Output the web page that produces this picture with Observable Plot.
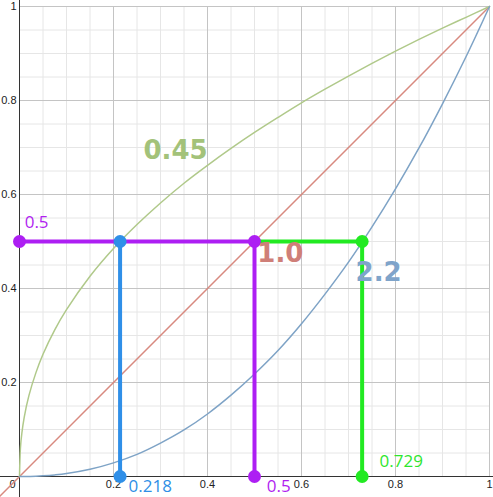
<!DOCTYPE html>
<html>
<head>
<meta charset="utf-8">
<script src="https://cdn.jsdelivr.net/npm/d3@7"></script>
<script src="https://cdn.jsdelivr.net/npm/@observablehq/plot@0.6"></script>
<style>
  html, body { margin: 0; padding: 0; background: #fff; }
  svg { display: block; }
</style>
</head>
<body>
<div id="chart"></div>
<script>
// sample x positions along the curves
const curveX = [0, 0.002, 0.005, 0.01, 0.02, 0.035, 0.05, 0.075, 0.1, 0.15, 0.2, 0.25, 0.3, 0.35, 0.4, 0.45, 0.5, 0.55, 0.6, 0.65, 0.7, 0.75, 0.8, 0.85, 0.9, 0.95, 1];
// gamma 0.45 curve (green)
const gamma045 = [0, 0.061, 0.092, 0.126, 0.172, 0.221, 0.260, 0.312, 0.355, 0.426, 0.485, 0.536, 0.582, 0.624, 0.662, 0.698, 0.732, 0.764, 0.795, 0.824, 0.852, 0.879, 0.905, 0.930, 0.954, 0.977, 1];
// gamma 2.2 curve (blue)
const gamma22 = [0, 0, 0, 0.0000, 0.0002, 0.0006, 0.0014, 0.0034, 0.0063, 0.0154, 0.029, 0.047, 0.071, 0.099, 0.133, 0.173, 0.218, 0.268, 0.325, 0.388, 0.456, 0.531, 0.612, 0.699, 0.793, 0.893, 1];
// gamma 1.0 line (red)
const linearX = [-0.045, 1];
const linearY = [-0.045, 1];

// grid / ticks
const minorTicks = [0.05, 0.1, 0.15, 0.25, 0.3, 0.35, 0.45, 0.5, 0.55, 0.65, 0.7, 0.75, 0.85, 0.9, 0.95];
const majorTicks = [0.2, 0.4, 0.6, 0.8, 1];
const tickLabels = ["0.2", "0.4", "0.6", "0.8", "1"];

// annotation lines
const purpleH = [[0, 0.5], [0.5, 0.5]];
const purpleV = [[0.5, 0.5], [0.5, 0]];
const blueV = [[0.214, 0.5], [0.214, 0]];
const greenH = [[0.5, 0.5], [0.729, 0.5]];
const greenV = [[0.729, 0.5], [0.729, 0]];
const purpleDots = [[0, 0.5], [0.5, 0.5], [0.5, 0]];
const blueDots = [[0.214, 0.5], [0.214, 0]];
const greenDots = [[0.729, 0.5], [0.729, 0]];

// curve labels
const curveLabels = [
  {x: 0.332, y: 0.694, text: "0.45", color: "#a3c27a"},
  {x: 0.555, y: 0.474, text: "1.0", color: "#cf7f78"},
  {x: 0.764, y: 0.434, text: "2.2", color: "#7fa4ca"}
];
// value labels
const valueLabels = [
  {x: 0.011, y: 0.540, text: "0.5", color: "#b11ff0"},
  {x: 0.232, y: -0.021, text: "0.218", color: "#2f8fe6"},
  {x: 0.526, y: -0.021, text: "0.5", color: "#b11ff0"},
  {x: 0.766, y: 0.032, text: "0.729", color: "#2ee62e"}
];

const purple = "#ad1ff3";
const blue = "#2f8fe8";
const green = "#22ea22";

const greenCurve = curveX.map((x, i) => ({x, y: gamma045[i]}));
const blueCurve = curveX.map((x, i) => ({x, y: gamma22[i]}));
const redLine = linearX.map((x, i) => ({x, y: linearY[i]}));

const chart = Plot.plot({
  width: 493,
  height: 497,
  marginLeft: 19,
  marginRight: 4,
  marginTop: 6,
  marginBottom: 21,
  x: {domain: [0, 1], axis: null},
  y: {domain: [0, 1], axis: null},
  style: {background: "#fff"},
  marks: [
    Plot.ruleX(minorTicks, {stroke: "#e6e6e6", strokeWidth: 1}),
    Plot.ruleY(minorTicks, {stroke: "#e6e6e6", strokeWidth: 1}),
    Plot.ruleX(majorTicks, {stroke: "#c4c4c4", strokeWidth: 1}),
    Plot.ruleY(majorTicks, {stroke: "#c4c4c4", strokeWidth: 1}),
    Plot.ruleX([0], {stroke: "#333", strokeWidth: 1, y1: -0.05, y2: 1.02}),
    Plot.ruleY([0], {stroke: "#333", strokeWidth: 1, x1: -0.05, x2: 1.02}),
    // tick labels
    Plot.text(majorTicks, {x: d => d, y: 0, text: (d, i) => tickLabels[i], dy: 8, fontSize: 11, fill: "#222", fontFamily: "Arial, 'Liberation Sans', sans-serif", stroke: "#fff", strokeWidth: 3}),
    Plot.text(majorTicks, {x: 0, y: d => d, text: (d, i) => tickLabels[i], dx: -3, textAnchor: "end", fontSize: 11, fill: "#222", fontFamily: "Arial, 'Liberation Sans', sans-serif", stroke: "#fff", strokeWidth: 3}),
    Plot.text(["0"], {x: 0, y: 0, text: d => d, dx: -7, dy: 8, fontSize: 11, fill: "#222", fontFamily: "Arial, 'Liberation Sans', sans-serif"}),
    // curves
    Plot.line(redLine, {x: "x", y: "y", stroke: "#d88a80", strokeWidth: 1.5}),
    Plot.line(greenCurve, {x: "x", y: "y", stroke: "#b0c98a", strokeWidth: 1.5, curve: "catmull-rom"}),
    Plot.line(blueCurve, {x: "x", y: "y", stroke: "#7ea3c6", strokeWidth: 1.5, curve: "catmull-rom"}),
    // annotation lines
    Plot.line(purpleH, {x: d => d[0], y: d => d[1], stroke: purple, strokeWidth: 4}),
    Plot.line(blueV, {x: d => d[0], y: d => d[1], stroke: blue, strokeWidth: 4}),
    Plot.line(greenH, {x: d => d[0], y: d => d[1], stroke: green, strokeWidth: 4}),
    Plot.line(purpleV, {x: d => d[0], y: d => d[1], stroke: purple, strokeWidth: 4}),
    Plot.line(greenV, {x: d => d[0], y: d => d[1], stroke: green, strokeWidth: 4}),
    Plot.dot(purpleDots, {x: d => d[0], y: d => d[1], r: 6.5, fill: purple}),
    Plot.dot(blueDots, {x: d => d[0], y: d => d[1], r: 6.5, fill: blue}),
    Plot.dot(greenDots, {x: d => d[0], y: d => d[1], r: 6.5, fill: green}),
    // labels
    Plot.text(curveLabels, {x: "x", y: "y", text: "text", fill: d => d.color, fontSize: 26, fontWeight: "bold", fontFamily: "'DejaVu Sans', sans-serif"}),
    Plot.text(valueLabels, {x: "x", y: "y", text: "text", fill: d => d.color, fontSize: 17, textAnchor: "start", fontFamily: "'Open Sans', 'Noto Sans', sans-serif"})
  ]
});
document.getElementById("chart").appendChild(chart);
</script>
</body>
</html>
